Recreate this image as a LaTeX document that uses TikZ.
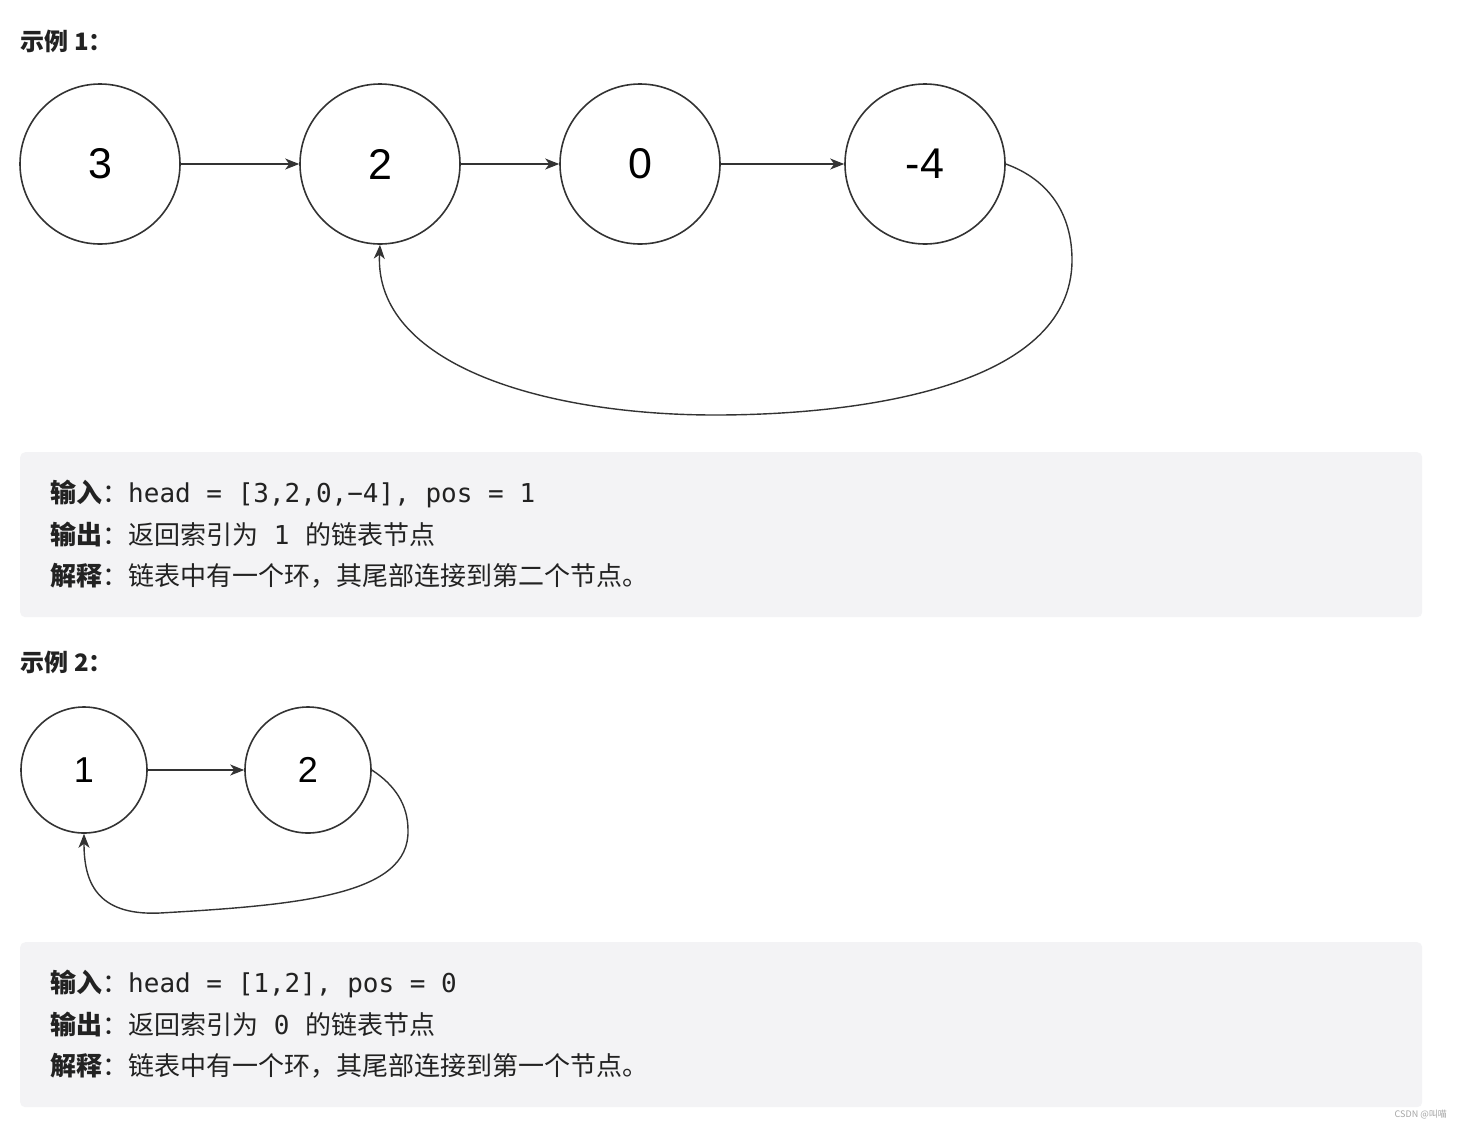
\documentclass[tikz,border=0pt]{standalone}
\usepackage{fontspec}
\setmainfont{Noto Sans CJK SC}
\setmonofont{DejaVu Sans Mono}
\newfontfamily\digitfont{Liberation Sans}
\usetikzlibrary{arrows.meta}
\definecolor{lcInk}{RGB}{34,34,34}
\definecolor{lcLine}{RGB}{51,51,51}
\definecolor{lcBox}{RGB}{243,243,245}
\definecolor{lcMark}{RGB}{165,165,165}

\begin{document}
\begin{tikzpicture}[x=1pt,y=-1pt,
  listnode/.style={circle, draw=lcLine, line width=1.6pt, inner sep=0pt, text=black},
  bignode/.style={listnode, minimum size=160pt, font=\digitfont\fontsize{43}{43}\selectfont},
  smallnode/.style={listnode, minimum size=126pt, font=\digitfont\fontsize{36}{36}\selectfont},
  nextarrow/.style={draw=lcLine, line width=1.4pt, -{Stealth[length=14pt,width=11pt,inset=4pt]}},
  codebox/.style={fill=lcBox, rounded corners=5pt, minimum width=1402pt, minimum height=165pt, anchor=north west, inner sep=0pt},
  codeline/.style={anchor=base west, inner sep=0pt, text=lcInk, font=\fontsize{26}{26}\selectfont},
  heading/.style={anchor=base west, inner sep=0pt, text=lcInk, font=\bfseries\fontsize{24}{24}\selectfont}]
\useasboundingbox[fill=white] (0,0) rectangle (1462,1128);

% example 1
\node[heading] (title1) at (20,50) {示例\hspace{6pt}1：};
\node[bignode] (n1) at (100,164) {3};
\node[bignode] (n2) at (380,164) {2};
\node[bignode] (n3) at (640,164) {0};
\node[bignode] (n4) at (925,164) {-4};
\draw[nextarrow] (n1) -- (n2);
\draw[nextarrow] (n2) -- (n3);
\draw[nextarrow] (n3) -- (n4);
\draw[nextarrow] (n4.east) .. controls (1050,180) and (1072,215) .. (1072,260)
  .. controls (1072,390) and (850,415) .. (715,415)
  .. controls (545,415) and (374,365) .. (n2.south);

\node[codebox] (box1) at (20,452) {};
\node[codeline] (in1) at (50,502) {{\bfseries 输入}：\texttt{head = [3,2,0,−4], pos = 1}};
\node[codeline] (out1) at (50,544) {{\bfseries 输出}：返回索引为\texttt{\ 1\ }的链表节点};
\node[codeline] (why1) at (50,585) {{\bfseries 解释}：链表中有一个环，其尾部连接到第二个节点。};

% example 2
\node[heading] (title2) at (20,671) {示例\hspace{6pt}2：};
\node[smallnode] (m1) at (84,770) {1};
\node[smallnode] (m2) at (308,770) {2};
\draw[nextarrow] (m1) -- (m2);
\draw[nextarrow] (m2.east) .. controls (395,785) and (408,805) .. (408,830)
  .. controls (410,895) and (300,905) .. (160,913)
  .. controls (95,916) and (84,880) .. (m1.south);

\node[codebox] (box2) at (20,942) {};
\node[codeline] (in2) at (50,992) {{\bfseries 输入}：\texttt{head = [1,2], pos = 0}};
\node[codeline] (out2) at (50,1034) {{\bfseries 输出}：返回索引为\texttt{\ 0\ }的链表节点};
\node[codeline] (why2) at (50,1075) {{\bfseries 解释}：链表中有一个环，其尾部连接到第一个节点。};

\node[anchor=base east, inner sep=0pt, text=lcMark, font=\fontsize{9}{9}\selectfont] (mark) at (1447,1117) {CSDN @叫喵};
\end{tikzpicture}
\end{document}
